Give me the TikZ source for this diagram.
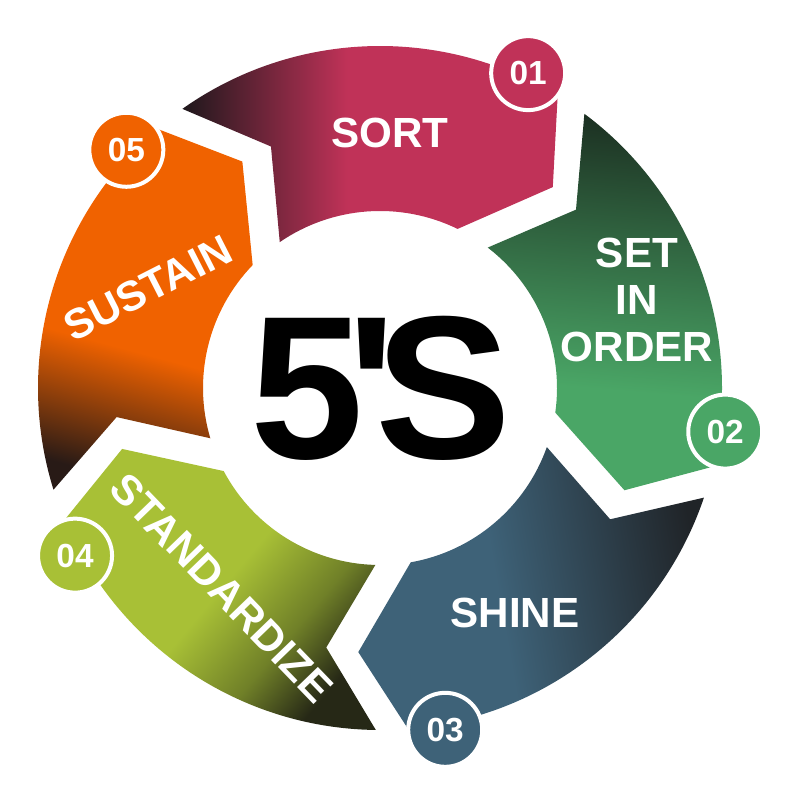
\documentclass[tikz,border=0pt]{standalone}
\usepackage{fontspec}
\setmainfont{Liberation Sans}
\newfontfamily\bigfont{Liberation Sans}
% segment colours
\definecolor{sortmain}{RGB}{192,50,88}
\definecolor{sortdark}{RGB}{30,24,28}
\definecolor{setmain}{RGB}{74,166,102}
\definecolor{setdark}{RGB}{28,48,34}
\definecolor{shinemain}{RGB}{62,98,120}
\definecolor{shinedark}{RGB}{32,36,40}
\definecolor{stdmain}{RGB}{168,192,54}
\definecolor{stdmid}{RGB}{112,128,40}
\definecolor{stddark}{RGB}{38,40,22}
\definecolor{sustmain}{RGB}{240,98,0}
\definecolor{sustdark}{RGB}{40,26,22}
% shadings, dark at the tail of each arrow
\pgfdeclarehorizontalshading{sortshade}{100bp}{color(0bp)=(sortdark); color(25bp)=(sortdark); color(47bp)=(sortmain); color(100bp)=(sortmain)}
\pgfdeclarehorizontalshading{setshade}{100bp}{color(0bp)=(setdark); color(25bp)=(setdark); color(62bp)=(setmain); color(100bp)=(setmain)}
\pgfdeclarehorizontalshading{shineshade}{100bp}{color(0bp)=(shinedark); color(25bp)=(shinedark); color(55bp)=(shinemain); color(100bp)=(shinemain)}
\pgfdeclarehorizontalshading{stdshade}{100bp}{color(0bp)=(stddark); color(25bp)=(stddark); color(36bp)=(stdmid); color(50bp)=(stdmain); color(100bp)=(stdmain)}
\pgfdeclarehorizontalshading{sustshade}{100bp}{color(0bp)=(sustdark); color(25bp)=(sustdark); color(44bp)=(sustmain); color(100bp)=(sustmain)}
\tikzset{
  seg/.style={shade, draw=none},
  badge/.style={circle, draw=white, line width=0.04cm, minimum size=0.74cm, inner sep=0pt,
    text=white, font=\bfseries\fontsize{9.5}{9.5}\selectfont},
  lbl/.style={text=white, align=center, inner sep=0pt, font=\bfseries\fontsize{12}{13.3}\selectfont}
}
\begin{document}
\begin{tikzpicture}
\useasboundingbox[fill=white] (-3.80,-4.12) rectangle (4.20,3.88);
% Segment 01 (top)
\path[seg, shading=sortshade, shading angle=0]
  (125.3:3.42) arc[start angle=125.3, end angle=58.7, radius=3.42] -- (49.3:2.65)
  -- (64:1.77) arc[start angle=64, end angle=124.5, radius=1.77] -- (114.3:2.65) -- cycle;
% Segment 02 (right)
\path[seg, shading=setshade, shading angle=-95]
  (53.3:3.42) arc[start angle=53.3, end angle=-13.3, radius=3.42] -- (-22.7:2.65)
  -- (-8:1.77) arc[start angle=-8, end angle=52.5, radius=1.77] -- (42.3:2.65) -- cycle;
% Segment 03 (bottom)
\path[seg, shading=shineshade, shading angle=190]
  (-18.7:3.42) arc[start angle=-18.7, end angle=-85.3, radius=3.42] -- (-94.7:2.65)
  -- (-80:1.77) arc[start angle=-80, end angle=-19.5, radius=1.77] -- (-29.7:2.65) -- cycle;
% Segment 04 (lower left)
\path[seg, shading=stdshade, shading angle=140]
  (-90.7:3.42) arc[start angle=-90.7, end angle=-157.3, radius=3.42] -- (-166.7:2.65)
  -- (-152:1.77) arc[start angle=-152, end angle=-91.5, radius=1.77] -- (-101.7:2.65) -- cycle;
% Segment 05 (upper left)
\path[seg, shading=sustshade, shading angle=75]
  (-162.7:3.42) arc[start angle=-162.7, end angle=-229.3, radius=3.42] -- (-238.7:2.65)
  -- (-224:1.77) arc[start angle=-224, end angle=-163.5, radius=1.77] -- (-173.7:2.65) -- cycle;
% Labels
\node[lbl] (sort) at (0.10,2.55) {SORT};
\node[lbl] (order) at (2.57,0.88) {SET\\IN\\ORDER};
\node[lbl] (shine) at (1.35,-2.25) {SHINE};
\node[lbl, rotate=-46] (standard) at (-1.58,-2.00) {STANDARDIZE};
\node[lbl, rotate=27] (sustain) at (-2.32,1.00) {SUSTAIN};
% Badges
\node[badge, fill=sortmain] (b1) at (64.8:3.48) {01};
\node[badge, fill=setmain] (b2) at (-7.2:3.48) {02};
\node[badge, fill=shinemain] (b3) at (-79.2:3.48) {03};
\node[badge, fill=stdmain] (b4) at (-151.2:3.48) {04};
\node[badge, fill=sustmain] (b5) at (136.8:3.48) {05};
% Centre
\node[inner sep=0pt, font=\bigfont\bfseries\fontsize{58}{60}\selectfont] (five) at (0.01,0) {5\kern-4.6pt'\kern-6pt S};
\end{tikzpicture}
\end{document}
